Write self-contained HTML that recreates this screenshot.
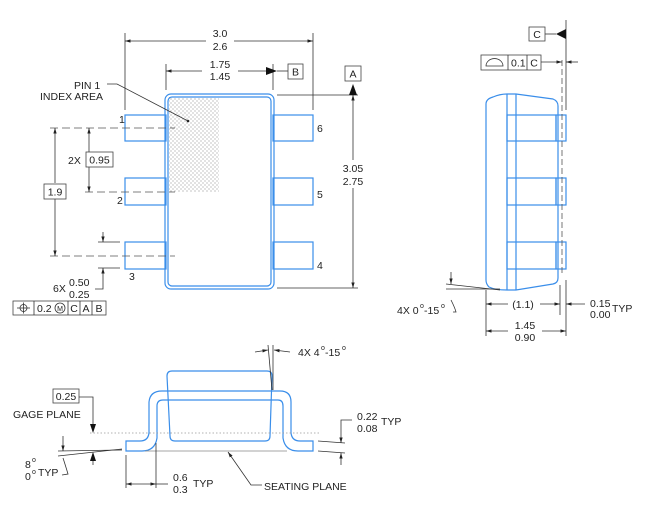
<!DOCTYPE html>
<html><head><meta charset="utf-8"><style>
html,body{margin:0;padding:0;background:#fff}
svg{display:block}
text{font-family:"Liberation Sans",sans-serif;font-size:10.5px;fill:#222}
.b{fill:none;stroke:#3a8eea;stroke-width:1.2}
.k{fill:none;stroke:#333;stroke-width:0.8}
.d{fill:none;stroke:#555;stroke-width:0.8;stroke-dasharray:8 4}
.bx{fill:#fff;stroke:#444;stroke-width:0.8}
</style></head><body>
<svg width="650" height="524" viewBox="0 0 650 524" xmlns="http://www.w3.org/2000/svg">
<defs>
<marker id="a" viewBox="0 0 10 10" refX="10" refY="5" markerWidth="7" markerHeight="7" orient="auto-start-reverse"><path d="M0,2 L10,5 L0,8z" fill="#222"/></marker>
<pattern id="dots" width="4" height="4" patternUnits="userSpaceOnUse"><circle cx="1" cy="1" r="0.5" fill="#666"/><circle cx="3" cy="3" r="0.5" fill="#666"/></pattern>
</defs>

<!-- TOP VIEW -->
<rect x="169" y="97" width="50" height="95" fill="url(#dots)"/>
<rect x="165" y="94" width="109" height="195" rx="6" class="b"/>
<rect x="168" y="97" width="103" height="189" rx="4" class="b"/>
<g class="b">
<rect x="125" y="115" width="41" height="26"/><rect x="125" y="178" width="41" height="27"/><rect x="125" y="242" width="41" height="27"/>
<rect x="273" y="115" width="40" height="26"/><rect x="273" y="178" width="40" height="27"/><rect x="273" y="242" width="40" height="27"/>
</g>
<circle cx="188" cy="121" r="1.3" fill="#222"/>
<text x="119" y="123">1</text><text x="117" y="204">2</text><text x="129" y="280">3</text>
<text x="317" y="132">6</text><text x="317" y="198">5</text><text x="317" y="269">4</text>
<text x="74" y="89">PIN 1</text><text x="40" y="100">INDEX AREA</text>
<polyline points="107,84 117,84 188,121" class="k"/>
<!-- 3.0 -->
<line x1="125" y1="33" x2="125" y2="110" class="k"/><line x1="313" y1="33" x2="313" y2="110" class="k"/>
<line x1="125" y1="41" x2="206" y2="41" class="k" marker-start="url(#a)"/><line x1="234" y1="41" x2="313" y2="41" class="k" marker-end="url(#a)"/>
<text x="220" y="37" text-anchor="middle">3.0</text><text x="220" y="50" text-anchor="middle">2.6</text>
<!-- 1.75 -->
<line x1="166" y1="64" x2="166" y2="90" class="k"/><line x1="273" y1="64" x2="273" y2="90" class="k"/>
<line x1="166" y1="71" x2="202" y2="71" class="k" marker-start="url(#a)"/><line x1="238" y1="71" x2="273" y2="71" class="k" marker-end="url(#a)"/>
<path d="M266,67 L277,71 L266,75z" fill="#111"/><line x1="277" y1="71" x2="288" y2="71" class="k"/>
<text x="220" y="68" text-anchor="middle">1.75</text><text x="220" y="80" text-anchor="middle">1.45</text>
<rect x="288" y="64" width="15" height="15" class="bx"/><text x="295.5" y="75.5" text-anchor="middle">B</text>
<rect x="345" y="66" width="16" height="15" class="bx"/><text x="353" y="77.5" text-anchor="middle">A</text>
<!-- 3.05 -->
<line x1="277" y1="95" x2="358" y2="95" class="k"/><line x1="277" y1="288" x2="358" y2="288" class="k"/>
<path d="M349,95 L353,84 L357,95z" fill="#111"/>
<line x1="353" y1="95" x2="353" y2="160" class="k" marker-start="url(#a)"/><line x1="353" y1="188" x2="353" y2="288" class="k" marker-end="url(#a)"/>
<text x="353" y="172" text-anchor="middle">3.05</text><text x="353" y="185" text-anchor="middle">2.75</text>
<!-- pitch -->
<line x1="50" y1="128" x2="175" y2="128" class="d"/><line x1="85" y1="192" x2="175" y2="192" class="d"/><line x1="50" y1="256" x2="175" y2="256" class="d"/>
<line x1="55" y1="128" x2="55" y2="183" class="k" marker-start="url(#a)"/><line x1="55" y1="199" x2="55" y2="256" class="k" marker-end="url(#a)"/>
<rect x="44" y="184" width="22" height="15" class="bx"/><text x="55" y="195.5" text-anchor="middle">1.9</text>
<line x1="89" y1="128" x2="89" y2="153" class="k" marker-start="url(#a)"/><line x1="89" y1="167" x2="89" y2="192" class="k" marker-end="url(#a)"/>
<rect x="86" y="152" width="27" height="15" class="bx"/><text x="99.5" y="163.5" text-anchor="middle">0.95</text>
<text x="68" y="164">2X</text>
<!-- 6X -->
<line x1="98" y1="242" x2="120" y2="242" class="k"/><line x1="98" y1="268" x2="120" y2="268" class="k"/>
<line x1="103" y1="232" x2="103" y2="242" class="k" marker-end="url(#a)"/><line x1="103" y1="278" x2="103" y2="268" class="k" marker-end="url(#a)"/>
<polyline points="103,278 103,289 95,289" class="k"/>
<text x="53" y="292">6X</text><text x="69" y="286">0.50</text><text x="69" y="298">0.25</text>
<g><rect x="13" y="301" width="93" height="14" class="bx"/>
<line x1="34" y1="301" x2="34" y2="315" class="k"/><line x1="68" y1="301" x2="68" y2="315" class="k"/><line x1="80" y1="301" x2="80" y2="315" class="k"/><line x1="92" y1="301" x2="92" y2="315" class="k"/>
<circle cx="23.5" cy="308" r="3.5" class="k"/><line x1="17" y1="308" x2="30" y2="308" class="k"/><line x1="23.5" y1="302.5" x2="23.5" y2="313.5" class="k"/>
<text x="37" y="312">0.2</text><circle cx="60" cy="308" r="5" class="k"/><text x="60" y="311" text-anchor="middle" style="font-size:7px">M</text>
<text x="74" y="312" text-anchor="middle">C</text><text x="86" y="312" text-anchor="middle">A</text><text x="99" y="312" text-anchor="middle">B</text></g>

<!-- SIDE VIEW -->
<path d="M493,97 Q500,94 507,94 L516,94 L553,99 Q558,101 558,106 L558,278 Q558,283 553,284 L516,290 L507,290 Q495,290 489,287 Q486,284 486,280 L486,104 Q486,99 493,97z" class="b"/>
<line x1="507" y1="94" x2="507" y2="290" class="b"/><line x1="516" y1="94" x2="516" y2="290" class="b"/>
<g class="b">
<rect x="507" y="115" width="49" height="26"/><rect x="556" y="115" width="10" height="26"/>
<rect x="507" y="178" width="49" height="27"/><rect x="556" y="178" width="10" height="27"/>
<rect x="507" y="242" width="49" height="27"/><rect x="556" y="242" width="10" height="27"/>
</g>
<line x1="562" y1="60" x2="562" y2="276" class="d" style="stroke-dasharray:6 3"/>
<line x1="566" y1="20" x2="566" y2="110" class="k"/>
<path d="M566,29 L556,34 L566,39z" fill="#111"/><line x1="545" y1="34" x2="556" y2="34" class="k"/>
<rect x="529" y="27" width="16" height="14" class="bx"/><text x="537" y="38" text-anchor="middle">C</text>
<rect x="481" y="55" width="60" height="15" class="bx"/>
<line x1="508" y1="55" x2="508" y2="70" class="k"/><line x1="527" y1="55" x2="527" y2="70" class="k"/>
<path d="M486,66 A8,7 0 0 1 503,66 Z" class="k"/>
<text x="511" y="66.5">0.1</text><text x="534" y="66.5" text-anchor="middle">C</text>
<line x1="541" y1="62" x2="562" y2="62" class="k" marker-end="url(#a)"/><line x1="578" y1="62" x2="566" y2="62" class="k" marker-end="url(#a)"/>
<line x1="486" y1="290" x2="486" y2="336" class="k"/><line x1="560" y1="285" x2="560" y2="315" class="k"/><line x1="566" y1="280" x2="566" y2="336" class="k"/>
<line x1="486" y1="304" x2="508" y2="304" class="k" marker-start="url(#a)"/><line x1="540" y1="304" x2="560" y2="304" class="k" marker-end="url(#a)"/>
<text x="523" y="308" text-anchor="middle">(1.1)</text>
<line x1="566" y1="304" x2="585" y2="304" class="k" marker-start="url(#a)"/>
<text x="590" y="307">0.15</text><text x="590" y="318">0.00</text><text x="612" y="312">TYP</text>
<line x1="486" y1="331" x2="508" y2="331" class="k" marker-start="url(#a)"/><line x1="542" y1="331" x2="566" y2="331" class="k" marker-end="url(#a)"/>
<text x="525" y="329" text-anchor="middle">1.45</text><text x="525" y="341" text-anchor="middle">0.90</text>
<line x1="446" y1="284" x2="500" y2="290" class="k"/><line x1="446" y1="289" x2="500" y2="289" class="k"/>
<line x1="451" y1="272" x2="451" y2="284" class="k" marker-end="url(#a)"/><path d="M451,300 Q455,308 456,312 L453,312" class="k"/>
<text x="397" y="314">4X 0</text><text x="420" y="308" style="font-size:7px">o</text><text x="424" y="314">-15</text><text x="441" y="308" style="font-size:7px">o</text>

<!-- FRONT VIEW -->
<path d="M172,371 L267,371 Q272,371 272,376 L270,436 Q270,441 265,441 L175,441 Q170,441 170,436 L167,376 Q167,371 172,371z" class="b"/>
<path d="M126,441 L140,441 Q148,441 149,433 L149,402 Q150,391 162,391 L280,391 Q291,391 291,402 L291,433 Q292,441 300,441 L313,441 L313,451 L298,451 Q285,451 283,438 L283,406 Q283,400 278,400 L163,400 Q157,400 157,406 L157,438 Q155,451 142,451 L126,451z" class="b"/>
<line x1="90" y1="433" x2="320" y2="433" class="k" style="stroke-dasharray:1.5 2;stroke:#999"/>
<line x1="145" y1="451" x2="287" y2="451" class="k" style="stroke:#888"/>
<rect x="53" y="389" width="26" height="14" class="bx"/><text x="66" y="400" text-anchor="middle">0.25</text>
<polyline points="79,397 93,397 93,430" class="k"/><path d="M90,424 L93,433 L96,424z" fill="#111"/>
<line x1="93" y1="455" x2="93" y2="465" class="k"/><path d="M90,461 L93,452 L96,461z" fill="#111"/>
<text x="13" y="418">GAGE PLANE</text>
<line x1="58" y1="451" x2="122" y2="450" class="k"/><line x1="58" y1="456" x2="122" y2="449" class="k"/>
<line x1="63" y1="436" x2="63" y2="451" class="k" marker-end="url(#a)"/><path d="M63,458 Q65,464 68,474 L62,475" class="k"/>
<text x="25" y="468">8</text><text x="32" y="462" style="font-size:7px">o</text>
<text x="25" y="480">0</text><text x="32" y="474" style="font-size:7px">o</text><text x="38" y="476">TYP</text>
<line x1="126" y1="455" x2="126" y2="488" class="k"/><line x1="156" y1="443" x2="156" y2="488" class="k"/>
<line x1="126" y1="484" x2="156" y2="484" class="k" marker-start="url(#a)" marker-end="url(#a)"/><line x1="156" y1="484" x2="168" y2="484" class="k"/>
<text x="173" y="481">0.6</text><text x="173" y="493">0.3</text><text x="193" y="487">TYP</text>
<polyline points="228,452 251,485 262,485" class="k" marker-start="url(#a)"/>
<text x="264" y="490">SEATING PLANE</text>
<line x1="268" y1="345" x2="272" y2="390" class="k"/><line x1="273" y1="345" x2="273" y2="390" class="k"/>
<line x1="255" y1="352" x2="268" y2="350" class="k" marker-end="url(#a)"/><line x1="290" y1="352" x2="274" y2="350" class="k" marker-end="url(#a)"/>
<text x="298" y="356">4X 4</text><text x="321" y="350" style="font-size:7px">o</text><text x="325" y="356">-15</text><text x="342" y="350" style="font-size:7px">o</text>
<line x1="318" y1="441" x2="345" y2="443" class="k"/><line x1="318" y1="451" x2="345" y2="453" class="k"/>
<line x1="341" y1="426" x2="341" y2="443" class="k" marker-end="url(#a)"/><line x1="341" y1="465" x2="341" y2="453" class="k" marker-end="url(#a)"/>
<polyline points="341,426 341,420 352,420" class="k"/>
<text x="357" y="420">0.22</text><text x="357" y="432">0.08</text><text x="381" y="425">TYP</text>
</svg>
</body></html>
